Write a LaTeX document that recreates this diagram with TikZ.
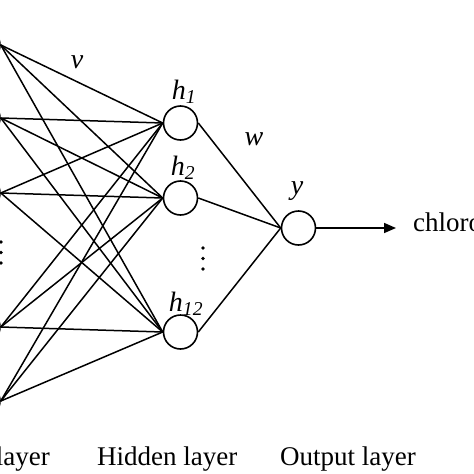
\documentclass[tikz,border=0pt]{standalone}
\usepackage{fontspec}
\setmainfont{Liberation Serif}
\usetikzlibrary{arrows.meta,positioning}

\begin{document}
\begin{tikzpicture}[x=1pt, y=-1pt,
    neuron/.style={draw, circle, line width=1.6pt, minimum size=34pt, inner sep=0pt},
    link/.style={line width=1.5pt},
    arr/.style={-{Triangle[length=12pt, width=10pt]}, line width=1.6pt},
    lab/.style={font=\fontsize{28}{32}\selectfont\itshape, inner sep=0pt},
    layertxt/.style={font=\fontsize{27}{32}\selectfont, inner sep=0pt}
]
\useasboundingbox (0,0) rectangle (474,474);
% input layer (mostly outside the frame)
\node[neuron] (in1) at (-17,45) {};
\node[neuron] (in2) at (-17,118) {};
\node[neuron] (in3) at (-17,193) {};
\node[neuron] (in4) at (-17,327) {};
\node[neuron] (in5) at (-17,401) {};
% hidden layer
\node[neuron] (h1) at (180.5,123) {};
\node[neuron] (h2) at (180.5,198) {};
\node[neuron] (h12) at (180.5,332) {};
% output layer
\node[neuron] (out) at (298.5,228) {};
\coordinate (tip) at (396,228);

\foreach \i in {in1,in2,in3,in4,in5}
  \foreach \j in {h1,h2,h12}
    \draw[link] (\i.east) -- (\j.west);
\foreach \j in {h1,h2,h12}
  \draw[link] (\j.east) -- (out.west);
\draw[arr] (out.east) -- (tip);

% vertical dots
\foreach \d in {242,252.5,263}
  \fill (1,\d) circle (1.9);
\foreach \d in {248,258.5,269}
  \fill (203,\d) circle (1.9);

% labels
\node[lab] (vlab) at (77,62) {v};
\node[lab] (wlab) at (254,139) {w};
\node[lab] (h1lab) at (184,92) {h\textsubscript{1}};
\node[lab] (h2lab) at (183,168) {h\textsubscript{2}};
\node[lab] (h12lab) at (186,304) {h\textsubscript{12}};
\node[lab] (ylab) at (297,191) {y};
\node[layertxt, anchor=base west] (chl) at (413,231) {chlorophyll};
\node[layertxt, anchor=base east] (inlab) at (50,465) {Input layer};
\node[layertxt, anchor=base west] (hidlab) at (97,465) {Hidden layer};
\node[layertxt, anchor=base west] (outlab) at (280,465) {Output layer};
\end{tikzpicture}
\end{document}
